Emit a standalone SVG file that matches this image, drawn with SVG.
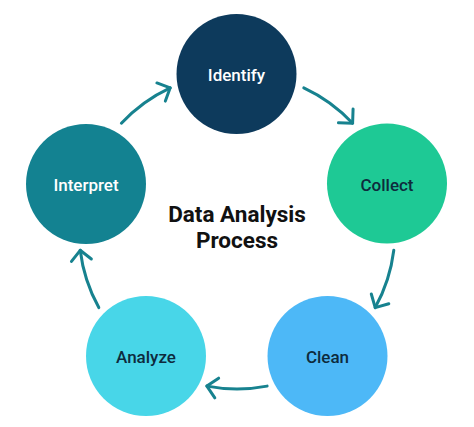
<svg xmlns="http://www.w3.org/2000/svg" width="474" height="427" viewBox="0 0 474 427">
<defs>
<style>
.lbl{font-family:Roboto,"Liberation Sans",sans-serif;font-size:17px;font-weight:500;text-anchor:middle;dominant-baseline:central}
.light{fill:#ffffff}
.dark{fill:#0e2b3d}
.title{font-family:Roboto,"Liberation Sans",sans-serif;font-size:22.5px;font-weight:700;text-anchor:middle;fill:#111111}
.conn{fill:none;stroke:#17828f;stroke-width:3;stroke-linecap:round}
</style>
<marker id="ah" markerUnits="userSpaceOnUse" markerWidth="30" markerHeight="30" refX="0" refY="0" viewBox="-15 -15 30 30" orient="auto" overflow="visible">
<path d="M-10,-10 L0,0 L-10,10" fill="none" stroke="#17828f" stroke-width="3" stroke-linecap="round" stroke-linejoin="round"/>
</marker>
</defs>
<rect width="474" height="427" fill="#ffffff"/>
<g id="connectors">
<path class="conn" marker-end="url(#ah)" d="M121.4,123.2 A158,158 0 0 1 170.2,87.8"/>
<path class="conn" marker-end="url(#ah)" d="M303.8,87.8 A158,158 0 0 1 352.6,123.2"/>
<path class="conn" marker-end="url(#ah)" d="M393.8,250.3 A158,158 0 0 1 375.2,307.6"/>
<path class="conn" marker-end="url(#ah)" d="M267.1,386.1 A158,158 0 0 1 206.9,386.1"/>
<path class="conn" marker-end="url(#ah)" d="M98.8,307.6 A158,158 0 0 1 80.2,250.3"/>
</g>
<g id="identify">
<circle cx="236.5" cy="74" r="60" fill="#0d3a5c"/>
<text class="lbl light" x="236.5" y="75">Identify</text>
</g>
<g id="collect">
<circle cx="387" cy="183.5" r="60" fill="#1ec995"/>
<text class="lbl dark" x="387" y="184.5">Collect</text>
</g>
<g id="clean">
<circle cx="327.5" cy="356" r="60" fill="#4db8f7"/>
<text class="lbl dark" x="327.5" y="357">Clean</text>
</g>
<g id="analyze">
<circle cx="146" cy="356" r="60" fill="#48d6e8"/>
<text class="lbl dark" x="146" y="357">Analyze</text>
</g>
<g id="interpret">
<circle cx="86" cy="184" r="60" fill="#138291"/>
<text class="lbl light" x="86" y="185">Interpret</text>
</g>
<g id="title">
<text class="title" x="237" y="222">Data Analysis</text>
<text class="title" x="237" y="248">Process</text>
</g>
</svg>
